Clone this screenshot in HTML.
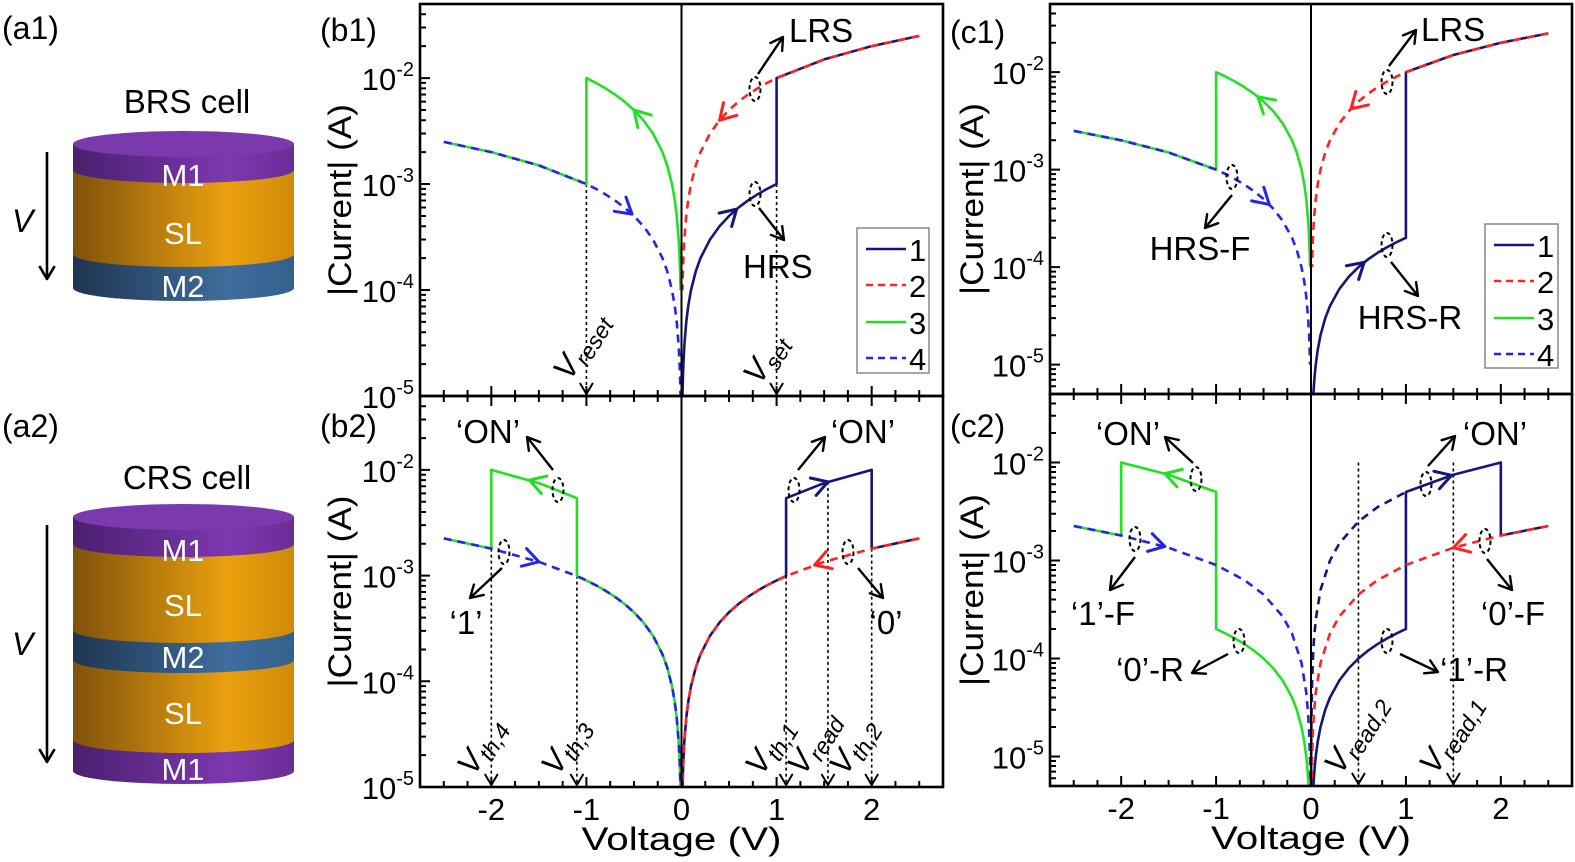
<!DOCTYPE html>
<html><head><meta charset="utf-8"><style>
html,body{margin:0;padding:0;background:#fff}
svg{display:block;font-family:"Liberation Sans",Arial,sans-serif}
</style></head><body>
<svg id="fig" width="1575" height="862" viewBox="0 0 1575 862" xmlns="http://www.w3.org/2000/svg">
<defs>
<linearGradient id="gP" x1="0" x2="1" y1="0" y2="0"><stop offset="0" stop-color="#4a1f6e"/><stop offset="0.7" stop-color="#7d38b0"/><stop offset="1" stop-color="#6a2d96"/></linearGradient>
<linearGradient id="gO" x1="0" x2="1" y1="0" y2="0"><stop offset="0" stop-color="#7f520c"/><stop offset="0.7" stop-color="#eba10e"/><stop offset="1" stop-color="#d08a0a"/></linearGradient>
<linearGradient id="gB" x1="0" x2="1" y1="0" y2="0"><stop offset="0" stop-color="#1f3550"/><stop offset="0.7" stop-color="#3f6d9e"/><stop offset="1" stop-color="#34608c"/></linearGradient>
</defs>
<g id="left"></g>
<g id="plots"></g>
</svg>
<script>
// ---------- data ----------
const b1_s1_v=[0.01,0.015,0.02,0.03,0.05,0.07,0.1,0.15,0.2,0.3,0.4,0.5,0.6,0.7,0.8,0.9,1.0,1.0,1.5,2.0,2.5];
const b1_s1_i=[1e-5,1.5e-5,2e-5,3e-5,5e-5,7e-5,1e-4,1.5e-4,2e-4,3e-4,4e-4,5e-4,6e-4,7e-4,8e-4,9e-4,1e-3,1e-2,1.5e-2,2e-2,2.5e-2];
const b1_s2_v=[2.5,2.0,1.5,1.0,0.9,0.8,0.7,0.6,0.5,0.4,0.3,0.2,0.15,0.1,0.07,0.05,0.03,0.02,0.015,0.01];
const b1_s2_i=[2.5e-2,2e-2,1.5e-2,1e-2,9e-3,8e-3,7e-3,6e-3,5e-3,4e-3,3e-3,2e-3,1.5e-3,1e-3,7e-4,5e-4,3e-4,2e-4,1.5e-4,1e-4];
const b1_s3_v=[-0.01,-0.015,-0.02,-0.03,-0.05,-0.07,-0.1,-0.15,-0.2,-0.3,-0.4,-0.5,-0.6,-0.7,-0.8,-0.9,-1.0,-1.0,-1.5,-2.0,-2.5];
const b1_s3_i=[1e-4,1.5e-4,2e-4,3e-4,5e-4,7e-4,1e-3,1.5e-3,2e-3,3e-3,4e-3,5e-3,6e-3,7e-3,8e-3,9e-3,1e-2,1e-3,1.5e-3,2e-3,2.5e-3];
const b1_s4_v=[-2.5,-2.0,-1.5,-1.0,-0.9,-0.8,-0.7,-0.6,-0.5,-0.4,-0.3,-0.2,-0.15,-0.1,-0.07,-0.05,-0.03,-0.02,-0.015,-0.01];
const b1_s4_i=[2.5e-3,2e-3,1.5e-3,1e-3,9e-4,8e-4,7e-4,6e-4,5e-4,4e-4,3e-4,2e-4,1.5e-4,1e-4,7e-5,5e-5,3e-5,2e-5,1.5e-5,1e-5];

const b2_s1_v=[0.01,0.015,0.02,0.03,0.05,0.07,0.1,0.15,0.2,0.3,0.4,0.5,0.6,0.7,0.8,0.9,1.0,1.1,1.1,1.5,2.0,2.0,2.5];
const b2_s1_i=[9e-6,1.35e-5,1.8e-5,2.7e-5,4.5e-5,6.3e-5,9e-5,1.35e-4,1.8e-4,2.7e-4,3.6e-4,4.5e-4,5.4e-4,6.3e-4,7.2e-4,8.1e-4,9e-4,9.9e-4,5.4e-3,7.5e-3,1e-2,1.8e-3,2.25e-3];
const b2_s2_v=[2.5,2.0,1.5,1.1,1.0,0.9,0.8,0.7,0.6,0.5,0.4,0.3,0.2,0.15,0.1,0.07,0.05,0.03,0.02,0.015,0.01];
const b2_s2_i=[2.25e-3,1.8e-3,1.35e-3,9.9e-4,9e-4,8.1e-4,7.2e-4,6.3e-4,5.4e-4,4.5e-4,3.6e-4,2.7e-4,1.8e-4,1.35e-4,9e-5,6.3e-5,4.5e-5,2.7e-5,1.8e-5,1.35e-5,9e-6];
const b2_s3_v=[-0.01,-0.015,-0.02,-0.03,-0.05,-0.07,-0.1,-0.15,-0.2,-0.3,-0.4,-0.5,-0.6,-0.7,-0.8,-0.9,-1.0,-1.1,-1.1,-1.5,-2.0,-2.0,-2.5];
const b2_s3_i=[9e-6,1.35e-5,1.8e-5,2.7e-5,4.5e-5,6.3e-5,9e-5,1.35e-4,1.8e-4,2.7e-4,3.6e-4,4.5e-4,5.4e-4,6.3e-4,7.2e-4,8.1e-4,9e-4,9.9e-4,5.4e-3,7.5e-3,1e-2,1.8e-3,2.25e-3];
const b2_s4_v=[-2.5,-2.0,-1.5,-1.1,-1.0,-0.9,-0.8,-0.7,-0.6,-0.5,-0.4,-0.3,-0.2,-0.15,-0.1,-0.07,-0.05,-0.03,-0.02,-0.015,-0.01];
const b2_s4_i=[2.25e-3,1.8e-3,1.35e-3,9.9e-4,9e-4,8.1e-4,7.2e-4,6.3e-4,5.4e-4,4.5e-4,3.6e-4,2.7e-4,1.8e-4,1.35e-4,9e-5,6.3e-5,4.5e-5,2.7e-5,1.8e-5,1.35e-5,9e-6];

const c1_s1_v=[0.025,0.03,0.04,0.05,0.07,0.1,0.15,0.2,0.3,0.4,0.5,0.6,0.7,0.8,0.9,1.0,1.0,1.5,2.0,2.5];
const c1_s1_i=[5e-6,6e-6,8e-6,1e-5,1.4e-5,2e-5,3e-5,4e-5,6e-5,8e-5,1e-4,1.2e-4,1.4e-4,1.6e-4,1.8e-4,2e-4,1e-2,1.5e-2,2e-2,2.5e-2];
const c1_s2_v=[2.5,2.0,1.5,1.0,0.9,0.8,0.7,0.6,0.5,0.4,0.3,0.2,0.15,0.1,0.07,0.05,0.03,0.02,0.015,0.01];
const c1_s2_i=[2.5e-2,2e-2,1.5e-2,1e-2,9e-3,8e-3,7e-3,6e-3,5e-3,4e-3,3e-3,2e-3,1.5e-3,1e-3,7e-4,5e-4,3e-4,2e-4,1.5e-4,1e-4];
const c1_s3_v=[-0.01,-0.015,-0.02,-0.03,-0.05,-0.07,-0.1,-0.15,-0.2,-0.3,-0.4,-0.5,-0.6,-0.7,-0.8,-0.9,-1.0,-1.0,-1.5,-2.0,-2.5];
const c1_s3_i=[1e-4,1.5e-4,2e-4,3e-4,5e-4,7e-4,1e-3,1.5e-3,2e-3,3e-3,4e-3,5e-3,6e-3,7e-3,8e-3,9e-3,1e-2,1e-3,1.5e-3,2e-3,2.5e-3];
const c1_s4_v=[-2.5,-2.0,-1.5,-1.0,-0.9,-0.8,-0.7,-0.6,-0.5,-0.4,-0.3,-0.2,-0.15,-0.1,-0.07,-0.05,-0.03,-0.02,-0.015,-0.01];
const c1_s4_i=[2.5e-3,2e-3,1.5e-3,1e-3,9e-4,8e-4,7e-4,6e-4,5e-4,4e-4,3e-4,2e-4,1.5e-4,1e-4,7e-5,5e-5,3e-5,2e-5,1.5e-5,1e-5];

const c2_s1_v=[0.025,0.03,0.04,0.05,0.07,0.1,0.15,0.2,0.3,0.4,0.5,0.6,0.7,0.8,0.9,1.0,1.0,1.5,2.0,2.0,2.5];
const c2_s1_i=[5e-6,6e-6,8e-6,1e-5,1.4e-5,2e-5,3e-5,4e-5,6e-5,8e-5,1e-4,1.2e-4,1.4e-4,1.6e-4,1.8e-4,2e-4,5e-3,7.5e-3,1e-2,1.8e-3,2.25e-3];
const c2_s1d_v=[0.001,0.002,0.003,0.005,0.01,0.02,0.03,0.05,0.1,0.2,0.3,0.5,0.7,1.0];
const c2_s1d_i=[5e-6,1e-5,1.5e-5,2.5e-5,5e-5,1e-4,1.5e-4,2.5e-4,5e-4,1e-3,1.5e-3,2.5e-3,3.5e-3,5e-3];
const c2_s2_v=[2.5,2.0,1.5,1.0,0.7,0.5,0.3,0.2,0.1,0.05,0.03,0.02,0.01,0.006];
const c2_s2_i=[2.25e-3,1.8e-3,1.35e-3,9e-4,6.3e-4,4.5e-4,2.7e-4,1.8e-4,9e-5,4.5e-5,2.7e-5,1.8e-5,9e-6,5.4e-6];
const c2_s3_v=[-0.025,-0.03,-0.04,-0.05,-0.07,-0.1,-0.15,-0.2,-0.3,-0.4,-0.5,-0.6,-0.7,-0.8,-0.9,-1.0,-1.0,-1.5,-2.0,-2.0,-2.5];
const c2_s3_i=[5e-6,6e-6,8e-6,1e-5,1.4e-5,2e-5,3e-5,4e-5,6e-5,8e-5,1e-4,1.2e-4,1.4e-4,1.6e-4,1.8e-4,2e-4,5e-3,7.5e-3,1e-2,1.8e-3,2.25e-3];
const c2_s4_v=[-2.5,-2.0,-1.5,-1.0,-0.7,-0.5,-0.3,-0.2,-0.1,-0.05,-0.03,-0.02,-0.01,-0.006];
const c2_s4_i=[2.25e-3,1.8e-3,1.35e-3,9e-4,6.3e-4,4.5e-4,2.7e-4,1.8e-4,9e-5,4.5e-5,2.7e-5,1.8e-5,9e-6,5.4e-6];

const xTickVals=[-2,-1,0,1,2];
const xTickLabels=['-2','-1','0','1','2'];
const yDecades=[-2,-3,-4,-5];
const yDecadeLabels=['-2','-3','-4','-5'];

// direction arrows on curves: [tipV, tipI, tailV, tailI]
const b1_arrows=[[0.58,5.8e-4,0.45,4.5e-4],[0.4,4e-3,0.52,5.2e-3],[-0.5,5e-3,-0.4,4e-3],[-0.52,5.2e-4,-0.65,6.5e-4]];
const b2_arrows=[[-1.6,8e-3,-1.45,7.25e-3],[-1.5,1.35e-3,-1.65,1.48e-3],[1.54,7.7e-3,1.4,7e-3],[1.4,1.26e-3,1.55,1.4e-3]];
const c1_arrows=[[-0.56,5.6e-3,-0.45,4.5e-3],[-0.44,4.4e-4,-0.56,5.6e-4],[0.42,4.2e-3,0.53,5.3e-3],[0.56,1.12e-4,0.45,9e-5]];
const c2_arrows=[[-1.54,7.7e-3,-1.4,7e-3],[-1.54,1.39e-3,-1.68,1.51e-3],[1.48,7.4e-3,1.35,6.75e-3],[1.5,1.35e-3,1.63,1.47e-3]];

const b1_mark_v=[-1,1]; const b1_mark_i=[1e-3,1e-3];
const b2_mark_v=[-2,-1.1,1.1,1.54,2]; const b2_mark_i=[1.8e-3,1e-3,1e-3,7.7e-3,1.8e-3];
const c2_mark_v=[0.5,1.5]; const c2_mark_i=[1e-2,1e-2];

// ---------- drawing ----------
const NS='http://www.w3.org/2000/svg';
function mk(tag,attrs,parent){const e=document.createElementNS(NS,tag);for(const k in attrs)e.setAttribute(k,attrs[k]);parent.appendChild(e);return e;}
const plots=document.getElementById('plots');
const left=document.getElementById('left');
const COL={navy:'#15157a',red:'#ff2222',green:'#22e022',blue:'#2424ee'};
const X0=-2.75,X1=2.75;
const panels={
 b1:{l:420,r:943,t:4,b:396,lo:-5,hi:-1.301},
 b2:{l:420,r:943,t:396,b:787,lo:-5,hi:-1.301},
 c1:{l:1050,r:1572,t:4,b:394,lo:-5.301,hi:-1.301},
 c2:{l:1050,r:1572,t:394,b:786,lo:-5.301,hi:-1.301}};
function xs(p,v){return p.l+(v-X0)/(X1-X0)*(p.r-p.l);}
function ys(p,i){return p.b-(Math.log10(i)-p.lo)/(p.hi-p.lo)*(p.b-p.t);}
function ysl(p,lg){return p.b-(lg-p.lo)/(p.hi-p.lo)*(p.b-p.t);}

function drawSeries(p,g,vs,is,color,dashed,name){
  let d='';
  for(let k=0;k<vs.length;k++){d+=(k?'L':'M')+xs(p,vs[k]).toFixed(2)+' '+ys(p,is[k]).toFixed(2);}
  const e=mk('path',{d:d,fill:'none',stroke:color,'stroke-width':2.6,'stroke-dasharray':dashed?'8 6':'none','stroke-linejoin':'round'},g);
  
  
}
function arrowHead(g,x,y,ang,color,len,w){
  const a1=ang+Math.PI*0.83,a2=ang-Math.PI*0.83;
  const e=mk('path',{d:`M${x+len*Math.cos(a1)} ${y+len*Math.sin(a1)}L${x} ${y}L${x+len*Math.cos(a2)} ${y+len*Math.sin(a2)}`,fill:'none',stroke:color,'stroke-width':w,'stroke-linecap':'round','stroke-linejoin':'round'},g);
  return e;
}
function drawCurveArrows(p,g,arr,colors){
  arr.forEach((a,k)=>{
    const x=xs(p,a[0]),y=ys(p,a[1]),tx=xs(p,a[2]),ty=ys(p,a[3]);
    const e=arrowHead(g,x,y,Math.atan2(y-ty,x-tx),colors[k],18,3);
    
    
  });
}
function drawMarks(p,g,vs,is){
  vs.forEach((v,k)=>{
    const x=xs(p,v);
    const l=mk('line',{x1:x,x2:x,y1:ys(p,is[k]),y2:p.b-2,stroke:'#000','stroke-width':1.6,'stroke-dasharray':'3 3'},g);
    
    
    const h=arrowHead(g,x,p.b-2,Math.PI/2,'#000',12,2);
    
    
  });
}
function drawAxes(p,g,topTicks){
  const box=mk('rect',{x:p.l,y:p.t,width:p.r-p.l,height:p.b-p.t,fill:'none',stroke:'#000','stroke-width':2.6},g);
  
  
  const z=mk('line',{x1:xs(p,0),x2:xs(p,0),y1:p.t,y2:p.b,stroke:'#000','stroke-width':2},g);
  
  
  let d='';
  for(let k=-11;k<=11;k++){const v=k*0.25;const x=xs(p,v);const L=(k%4===0)?10:6;
    d+=`M${x} ${p.b}L${x} ${p.b-L}`; if(topTicks)d+=`M${x} ${p.t}L${x} ${p.t+L}`;}
  for(let dec=Math.floor(p.lo);dec<=Math.ceil(p.hi);dec++){
    for(let m=1;m<=9;m++){const lg=dec+Math.log10(m);if(lg<p.lo-1e-6||lg>p.hi)continue;const y=ysl(p,lg);const L=m===1?10:6;d+=`M${p.l} ${y}L${p.l+L} ${y}`;}
  }
  const t=mk('path',{d:d,stroke:'#000','stroke-width':2,fill:'none'},g);
  
  
  yDecades.forEach((dec,k)=>{
    const y=ysl(p,dec);
    const tx=mk('text',{x:p.l-6,y:y+12,'text-anchor':'end','font-size':31,fill:'#000'},g);
    
    
    tx.appendChild(document.createTextNode('10'));
    const s=mk('tspan',{dy:-14,'font-size':20},tx); s.textContent=yDecadeLabels[k];
  });
}
function xLabels(p,g){
  xTickVals.forEach((v,k)=>{
    const tx=mk('text',{x:xs(p,v),y:p.b+33,'text-anchor':'middle','font-size':31},g);
    
    
    tx.textContent=xTickLabels[k];
  });
  const t=mk('text',{x:(p.l+p.r)/2,y:p.b+63,'text-anchor':'middle','font-size':32,textLength:200,lengthAdjust:'spacingAndGlyphs'},g);
  
  
  t.textContent='Voltage (V)';
}
function yTitle(p,g,x){
  const cy=(p.t+p.b)/2;
  const t=mk('text',{x:x,y:cy,'text-anchor':'middle','font-size':32,transform:`rotate(-90 ${x} ${cy})`,textLength:192,lengthAdjust:'spacingAndGlyphs'},g);
  
  
  t.textContent='|Current| (A)';
}
function clipFor(id,p){
  const defs=document.querySelector('defs');
  const c=mk('clipPath',{id:id},defs);
  mk('rect',{x:p.l,y:p.t,width:p.r-p.l,height:p.b-p.t},c);
}
function txt(g,x,y,s,size,name,anchor){
  const t=mk('text',{x:x,y:y,'font-size':size,'text-anchor':anchor||'start'},g);
  
  
  t.textContent=s; return t;
}
function subLabel(g,x,y,main,sub,name){
  const t=mk('text',{x:x,y:y,'font-size':32,transform:`rotate(-58 ${x} ${y})`},g);
  
  
  const a=mk('tspan',{'font-style':'italic'},t); a.textContent=main;
  const b=mk('tspan',{'font-size':23,dy:7,'font-style':'italic'},t); b.textContent=sub;
}
function ann(g,ex,ey,ax1,ay1,ax2,ay2,name){
  const e=mk('ellipse',{cx:ex,cy:ey,rx:5.5,ry:12,fill:'none',stroke:'#000','stroke-width':2,'stroke-dasharray':'4 3'},g);
  
  
  const l=mk('line',{x1:ax1,y1:ay1,x2:ax2,y2:ay2,stroke:'#000','stroke-width':2.4},g);
  
  
  const h=arrowHead(g,ax2,ay2,Math.atan2(ay2-ay1,ax2-ax1),'#000',14,2.4);
  
  
}
function legend(g,x,y,w,h,ys_){
  const r=mk('rect',{x:x,y:y,width:w,height:h,fill:'#fff',stroke:'#888','stroke-width':1.5},g);
  
  
  const items=[[COL.navy,false,'1'],[COL.red,true,'2'],[COL.green,false,'3'],[COL.blue,true,'4']];
  items.forEach((it,k)=>{
    const yy=ys_[k];
    const l=mk('line',{x1:x+9,x2:x+49,y1:yy,y2:yy,stroke:it[0],'stroke-width':2.6,'stroke-dasharray':it[1]?'7 5':'none'},g);
    
    
    txt(g,x+52,yy+12,it[2],31,'legend-entry-'+it[2]);
  });
}

const order=[['s1',COL.navy,false],['s3',COL.green,false],['s2',COL.red,true],['s4',COL.blue,true]];
const DATA={
 b1:{s1:[b1_s1_v,b1_s1_i],s2:[b1_s2_v,b1_s2_i],s3:[b1_s3_v,b1_s3_i],s4:[b1_s4_v,b1_s4_i]},
 b2:{s1:[b2_s1_v,b2_s1_i],s2:[b2_s2_v,b2_s2_i],s3:[b2_s3_v,b2_s3_i],s4:[b2_s4_v,b2_s4_i]},
 c1:{s1:[c1_s1_v,c1_s1_i],s2:[c1_s2_v,c1_s2_i],s3:[c1_s3_v,c1_s3_i],s4:[c1_s4_v,c1_s4_i]},
 c2:{s1:[c2_s1_v,c2_s1_i],s2:[c2_s2_v,c2_s2_i],s3:[c2_s3_v,c2_s3_i],s4:[c2_s4_v,c2_s4_i]}};
const ARROWS={b1:b1_arrows,b2:b2_arrows,c1:c1_arrows,c2:c2_arrows};
const ARROW_COLS={
 b1:[COL.navy,COL.red,COL.green,COL.blue],
 b2:[COL.green,COL.blue,COL.navy,COL.red],
 c1:[COL.green,COL.blue,COL.red,COL.navy],
 c2:[COL.green,COL.blue,COL.navy,COL.red]};

for(const key in panels){
  const p=panels[key];
  const g=mk('g',{},plots);
  
  
  clipFor('clip-'+key,p);
  const sg=mk('g',{'clip-path':`url(#clip-${key})`},g);
  
  
  if(key==='b1')drawMarks(p,sg,b1_mark_v,b1_mark_i);
  if(key==='b2')drawMarks(p,sg,b2_mark_v,b2_mark_i);
  if(key==='c2')drawMarks(p,sg,c2_mark_v,c2_mark_i);
  order.forEach(o=>{const s=DATA[key][o[0]];drawSeries(p,sg,s[0],s[1],o[1],o[2],'series-'+o[0].slice(1)+'-'+key);});
  if(key==='c2')drawSeries(p,sg,c2_s1d_v,c2_s1d_i,COL.navy,true,'series-1-dashed-c2');
  drawAxes(p,g,key==='b2'||key==='c2');
  drawCurveArrows(p,g,ARROWS[key],ARROW_COLS[key]);
}
xLabels(panels.b2,plots); xLabels(panels.c2,plots);
yTitle(panels.b1,plots,351); yTitle(panels.b2,plots,351);
yTitle(panels.c1,plots,983); yTitle(panels.c2,plots,983);
txt(plots,320,41,'(b1)',32,'panel-label-b1');
txt(plots,320,437,'(b2)',32,'panel-label-b2');
txt(plots,950,43,'(c1)',32,'panel-label-c1');
txt(plots,950,437,'(c2)',32,'panel-label-c2');
legend(plots,857,228,72,145,[249,285,322,358]);
legend(plots,1485,224,73,144,[245,281,318,354]);
// b1 annotations
ann(plots,755,89,758,74,783,37,'lrs-b1'); txt(plots,789,42,'LRS',33,'label-lrs-b1');
ann(plots,755,194,759,208,784,240,'hrs-b1'); txt(plots,743,278,'HRS',33,'label-hrs-b1');
subLabel(plots,570,382,'V','reset','label-v-reset');
subLabel(plots,760,386,'V','set','label-v-set');
// b2 annotations
ann(plots,558,490,553,470,527,437,'on-left-b2'); txt(plots,488,443,'‘ON’',33,'label-on-left-b2','middle');
ann(plots,794,490,798,470,825,437,'on-right-b2'); txt(plots,863,443,'‘ON’',33,'label-on-right-b2','middle');
ann(plots,504,552,502,568,470,598,'one-b2'); txt(plots,466,634,'‘1’',33,'label-1-b2','middle');
ann(plots,848,552,858,568,883,598,'zero-b2'); txt(plots,886,634,'‘0’',33,'label-0-b2','middle');
subLabel(plots,474,777,'V','th,4','label-vth4');
subLabel(plots,558,777,'V','th,3','label-vth3');
subLabel(plots,762,777,'V','th,1','label-vth1');
subLabel(plots,804,777,'V','read','label-vread');
subLabel(plots,846,777,'V','th,2','label-vth2');
// c1 annotations
ann(plots,1387,82,1389,66,1416,30,'lrs-c1'); txt(plots,1421,41,'LRS',33,'label-lrs-c1');
ann(plots,1232,177,1232,195,1205,228,'hrs-f-c1'); txt(plots,1200,260,'HRS-F',33,'label-hrs-f','middle');
ann(plots,1387,245,1391,262,1418,296,'hrs-r-c1'); txt(plots,1410,329,'HRS-R',33,'label-hrs-r','middle');
// c2 annotations
ann(plots,1196,479,1193,463,1165,437,'on-left-c2'); txt(plots,1128,445,'‘ON’',33,'label-on-left-c2','middle');
ann(plots,1426,484,1428,466,1455,436,'on-right-c2'); txt(plots,1495,445,'‘ON’',33,'label-on-right-c2','middle');
ann(plots,1135,539,1135,557,1110,590,'one-f-c2'); txt(plots,1103,625,'‘1’-F',33,'label-1-f','middle');
ann(plots,1239,641,1228,654,1192,673,'zero-r-c2'); txt(plots,1150,681,'‘0’-R',33,'label-0-r','middle');
ann(plots,1387,641,1400,654,1438,672,'one-r-c2'); txt(plots,1474,681,'‘1’-R',33,'label-1-r','middle');
ann(plots,1485,541,1487,559,1512,590,'zero-f-c2'); txt(plots,1513,625,'‘0’-F',33,'label-0-f','middle');
subLabel(plots,1341,776,'V','read,2','label-vread2');
subLabel(plots,1436,776,'V','read,1','label-vread1');

// ---------- cylinders ----------
function cylinder(layers,topY,name){
  const l=73,r=294,rx=110.5,ry=13;
  const g=mk('g',{},left);
  
  
  for(let k=layers.length-1;k>=0;k--){
    const L=layers[k];
    const pth=mk('path',{d:`M${l} ${L[0]}L${l} ${L[1]}A${rx} ${ry} 0 0 0 ${r} ${L[1]}L${r} ${L[0]}Z`,fill:L[2]},g);
    
    
    const t=mk('text',{x:183,y:L[4],'text-anchor':'middle','font-size':31,fill:'#fff'},g);
    
    
    t.textContent=L[3];
  }
  const top=mk('ellipse',{cx:183.5,cy:topY,rx:rx,ry:ry,fill:'#7a3aae'},g);
  
  
}
cylinder([[144,170,'url(#gP)','M1',186],[170,254,'url(#gO)','SL',244],[254,288,'url(#gB)','M2',297]],144,'brs-cell-diagram');
cylinder([[517,544,'url(#gP)','M1',561],[544,630,'url(#gO)','SL',616],[630,660,'url(#gB)','M2',668],[660,740,'url(#gO)','SL',724],[740,771,'url(#gP)','M1',780]],517,'crs-cell-diagram');
txt(left,2,39,'(a1)',32,'panel-label-a1');
txt(left,2,437,'(a2)',32,'panel-label-a2');
txt(left,187,113,'BRS cell',33,'title-brs-cell','middle');
txt(left,187,489,'CRS cell',33,'title-crs-cell','middle');
function vArrow(y1,y2,ty,name){
  const l=mk('line',{x1:47,x2:47,y1:y1,y2:y2,stroke:'#000','stroke-width':2.6},left);
  
  
  const h=arrowHead(left,47,y2,Math.PI/2,'#000',14,2.6);
  
  
  const t=mk('text',{x:12,y:ty,'font-size':32,'font-style':'italic'},left);
  
  
  t.textContent='V';
}
vArrow(152,279,232,'voltage-arrow-a1');
vArrow(525,762,655,'voltage-arrow-a2');
</script>
</body></html>
